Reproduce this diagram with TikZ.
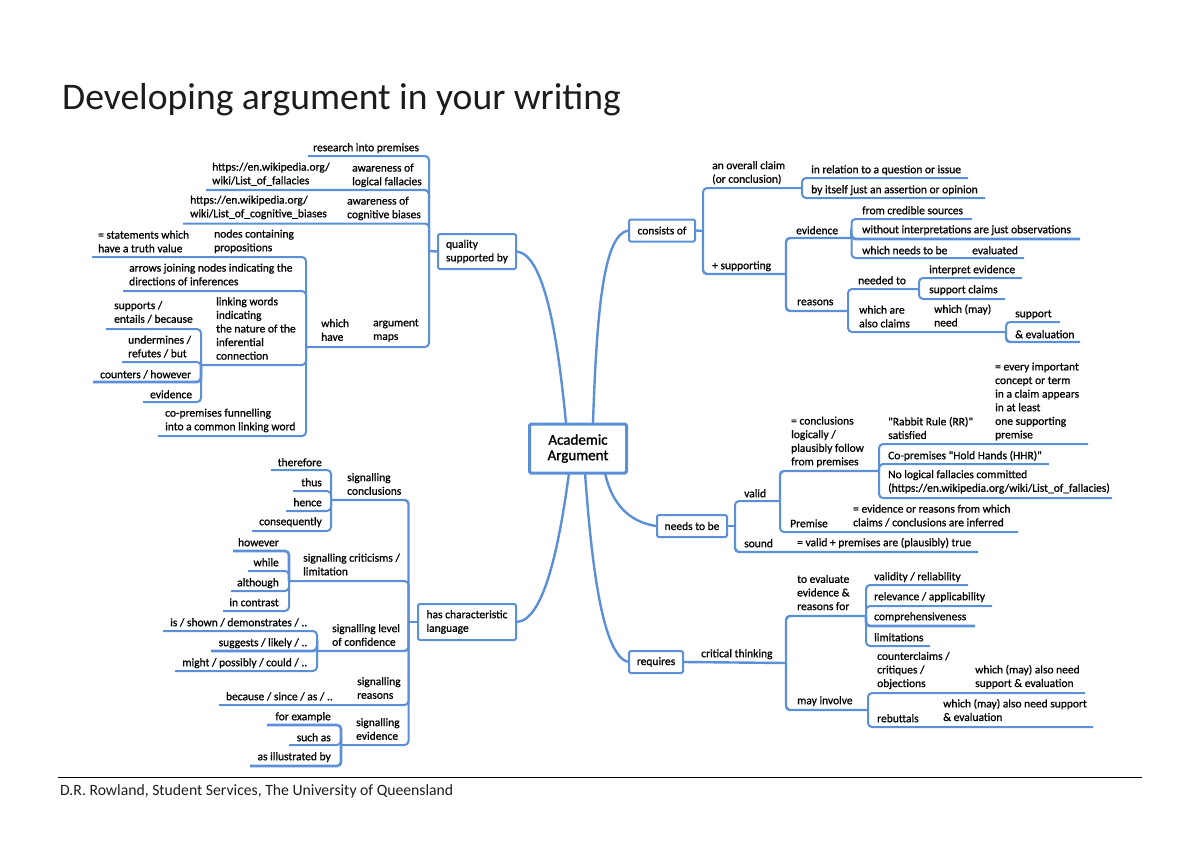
\documentclass[tikz,border=0pt]{standalone}
\usepackage{fontspec}
\setmainfont{Carlito}
\newfontfamily\mapfont[FakeBold=0.8]{Carlito}
\newfontfamily\rootfont[FakeBold=1.2]{Carlito}
\usetikzlibrary{arrows.meta, calc}
\definecolor{mapblue}{HTML}{5B8FD8}
\definecolor{inkgrey}{HTML}{1C1C1C}
\tikzset{
    lab/.style={anchor=west, align=left, inner sep=0pt, text=black, yshift=-1.5pt,
        font=\mapfont\fontsize{11.5}{13.6}\selectfont,
        execute at begin node=\strut, execute at end node=\strut},
    labr/.style={lab, anchor=east, align=right},
    topic/.style={draw=mapblue, line width=2pt, rounded corners=1.5pt, align=left, inner sep=0pt,
        font=\mapfont\fontsize{11.5}{13.6}\selectfont},
    branch/.style={draw=mapblue, rounded corners=4pt},
    trunk/.style={draw=mapblue, line width=2.4pt}
}
\begin{document}
\begin{tikzpicture}[x=1pt, y=-1pt]
    \useasboundingbox (0, 0) rectangle (1200, 849);
    % heading and footer
    \node[anchor=west, inner sep=0pt, text=inkgrey, font=\fontsize{37.6}{40}\selectfont] (title) at (62, 100) {Developing argument in your writing};
    \node[anchor=west, inner sep=0pt, text=inkgrey, font=\fontsize{15.7}{18}\selectfont] (footer) at (60, 791) {D.R. Rowland, Student Services, The University of Queensland};
    \coordinate (ruleL) at (58, 777);
    \coordinate (ruleR) at (1142, 777);
    \draw[line width=0.9pt] (ruleL) -- (ruleR);
    % centre and first level
    \node[topic, line width=3pt, align=center, minimum width=97pt, minimum height=49pt, font=\rootfont\fontsize{15}{15.5}\selectfont] (academic) at (578, 448.5) {Academic\\Argument};
    \node[topic, minimum width=78pt, minimum height=35pt] (quality) at (477, 251.5) {quality\\supported by};
    \node[topic, minimum width=98pt, minimum height=36pt] (charlang) at (467, 622) {has characteristic\\language};
    \node[topic, minimum width=66pt, minimum height=22pt] (consists) at (662, 230.5) {consists of};
    \node[topic, minimum width=70pt, minimum height=22pt] (needs) at (692, 526) {needs to be};
    \node[topic, minimum width=54pt, minimum height=22pt] (requires) at (656, 662) {requires};
    \coordinate (cq) at (566, 423);
    \coordinate (cc) at (593, 423);
    \coordinate (ch) at (569, 473);
    \coordinate (cr) at (585, 473);
    \coordinate (cn) at (605, 473);
    \draw[trunk] (quality.east) .. controls (545, 255) and (558, 340) .. (cq);
    \draw[trunk] (consists.west) .. controls (605, 235) and (597, 300) .. (cc);
    \draw[trunk] (charlang.east) .. controls (545, 620) and (560, 540) .. (ch);
    \draw[trunk] (cr) .. controls (592, 570) and (603, 655) .. (requires.west);
    \draw[trunk] (cn) .. controls (612, 505) and (630, 522) .. (needs.west);
    % roots of the trees
    \coordinate (jqual) at (429, 251);
    \coordinate (jchar) at (408.5, 622);
    \coordinate (jcons) at (703, 231);
    \coordinate (jneeds) at (735, 526);
    \draw[trunk] (jqual) -- (quality.west);
    \draw[trunk] (jchar) -- (charlang.west);
    \draw[trunk] (jcons) -- (consists.east);
    \draw[trunk] (jneeds) -- (needs.east);
    \coordinate (jreq) at (786, 663);
    \draw[trunk] (requires.east) -- (jreq);
    % every underline, parent before child
    \foreach \from/\to/\x/\y/\w in {
        jqual/rResearch/308/156/2, jqual/rFall/206/190/2.4, jqual/rCog/183/223.5/2,
        jqual/jmaps/306/347/2, jmaps/rNodes/92/257/2, jmaps/rArrows/123/291/2,
        jmaps/jlink/201/365/2, jmaps/rCoprem/158/436/2,
        jlink/rSupports/106/329/2, jlink/rUnder/122/362/2, jlink/rCounters/93/382/2.8, jlink/rEvid/143/402/2,
        jchar/jconc/331/500/2.4, jchar/jcrit/289/581/2, jchar/jconf/317/651/2.4,
        jchar/rBecause/219/705/2, jchar/jsigev/341/745/2,
        jconc/rThere/271/470/2, jconc/rThus/293/491/2, jconc/rHence/286/511/2, jconc/rConseq/252/531/2,
        jcrit/rHowever/233/551/2.6, jcrit/rWhile/248/571/2, jcrit/rAlthough/231/591/2, jcrit/rContrast/223/611/2,
        jconf/rShown/163/631/2, jconf/rSuggests/211/651/2.8, jconf/rMight/175/671/2,
        jsigev/rExample/267/725/2.6, jsigev/rSuch/289/745/2, jsigev/rIllus/250/766/2.6,
        jcons/jclaim/802/188/2, jcons/jsupp/786/274/2.4,
        jclaim/rRelation/968/178/2, jclaim/rItself/985/198/2,
        jsupp/jev/851.5/238/2.4, jsupp/jreas/848/311/2.4,
        jev/rCred/972/219/2, jev/rWithout/1080/239/2.8, jev/rEvaluated/1024/258/2,
        jreas/jneed/919/289/2, jreas/jalso/1006/332/2,
        jneed/rInterpret/1022/278/2, jneed/rClaims/1005/299/2,
        jalso/rSupport/1060/322/2, jalso/rAndEval/1080/342/2.4,
        jneeds/jvalid/780/501/2, jneeds/rSound/978/552/2.4,
        jvalid/jconcl/879/471/2.4, jvalid/rPremise/1018/532/2,
        jconcl/rRabbit/1088/444/2, jconcl/rHold/1049/464/2, jconcl/rNoLog/1112/498/2,
        jreq/jeval/866/616/2.4, jreq/jinv/868/710/2.4,
        jeval/rValidity/968/585/2, jeval/rRelevance/992/606/2, jeval/rCompre/975/626/2.6, jeval/rLimit/930/646/2,
        jinv/rCounter/1085/693/2, jinv/rRebut/1093/727/2}
    {
        \coordinate (\to) at (\x, \y);
        \draw[branch, line width=\w pt] (\from) |- (\to);
    }
    % labels, top left
    \node[lab] (tResearch) at (313, 147) {research into premises};
    \node[lab] (tFallUrl) at (212, 174) {https://en.wikipedia.org/\\wiki/List\_of\_fallacies};
    \node[lab] (tFall) at (352, 175) {awareness of\\logical fallacies};
    \node[lab] (tCogUrl) at (190, 207) {https://en.wikipedia.org/\\wiki/List\_of\_cognitive\_biases};
    \node[lab] (tCog) at (347, 208) {awareness of\\cognitive biases};
    \node[lab] (tStat) at (98, 242) {= statements which\\have a truth value};
    \node[lab] (tNodes) at (214, 241) {nodes containing\\propositions};
    \node[lab] (tArrows) at (129, 275) {arrows joining nodes indicating  the\\directions of inferences};
    \node[lab] (tSupports) at (114, 312.5) {supports /\\entails / because};
    \node[lab] (tLink) at (216, 329) {linking words\\indicating\\the nature of the\\inferential\\connection};
    \node[lab] (tUnder) at (128, 347) {undermines /\\refutes / but};
    \node[lab] (tCounters) at (100, 374) {counters / however};
    \node[lab] (tEvid) at (150, 394) {evidence};
    \node[lab] (tCoprem) at (165, 420) {co-premises funnelling\\into a common linking word};
    \node[lab] (tWhich) at (321, 330.5) {which\\have};
    \node[lab] (tMaps) at (373, 330) {argument\\maps};
    % labels, bottom left
    \node[lab] (tConc) at (347, 484.5) {signalling\\conclusions};
    \node[labr] (tThere) at (322, 462) {therefore};
    \node[labr] (tThus) at (322, 482) {thus};
    \node[labr] (tHence) at (322, 502) {hence};
    \node[labr] (tConseq) at (322, 521) {consequently};
    \node[lab] (tCrit) at (303, 565) {signalling criticisms /\\limitation};
    \node[labr] (tHowever) at (279, 542) {however};
    \node[labr] (tWhile) at (279, 562) {while};
    \node[labr] (tAlthough) at (279, 582) {although};
    \node[labr] (tContrast) at (279, 602) {in contrast};
    \node[lab] (tConf) at (332, 635.5) {signalling level\\of confidence};
    \node[labr] (tShown) at (307.5, 622) {is / shown / demonstrates / ..};
    \node[labr] (tSuggests) at (307.5, 642) {suggests / likely / ..};
    \node[labr] (tMight) at (307.5, 662) {might / possibly / could / ..};
    \node[lab] (tReas) at (357, 688.5) {signalling\\reasons};
    \node[labr] (tBecause) at (333, 696) {because / since / as / ..};
    \node[lab] (tSigev) at (356, 729.5) {signalling\\evidence};
    \node[labr] (tExample) at (331, 716) {for example};
    \node[labr] (tSuch) at (331, 737) {such as};
    \node[labr] (tIllus) at (331, 756) {as illustrated by};
    % labels, consists of
    \node[lab] (tClaim) at (712, 172.5) {an overall claim\\(or conclusion)};
    \node[lab] (tRelation) at (811, 169) {in relation to a question or issue};
    \node[lab] (tItself) at (811, 189) {by itself just an assertion or opinion};
    \node[lab] (tSupp) at (712, 265) {+ supporting};
    \node[lab] (tEv) at (796, 230) {evidence};
    \node[lab] (tCred) at (862, 210) {from credible sources};
    \node[lab] (tWithout) at (862, 229) {without interpretations are just observations};
    \node[lab] (tNeedsBe) at (862, 250) {which needs to be};
    \node[lab] (tEvaluated) at (972, 250) {evaluated};
    \node[lab] (tReasons) at (797, 301) {reasons};
    \node[lab] (tNeeded) at (858, 280) {needed to};
    \node[lab] (tInterpret) at (929, 269) {interpret evidence};
    \node[lab] (tClaims) at (929, 289) {support claims};
    \node[lab] (tAlso) at (859, 317) {which are\\also claims};
    \node[lab] (tMay) at (934, 316) {which (may)\\need};
    \node[lab] (tSupport) at (1015, 313) {support};
    \node[lab] (tAndEval) at (1015, 334) {\& evaluation};
    % labels, needs to be
    \node[lab] (tValid) at (744, 493) {valid};
    \node[lab] (tSound) at (744, 543) {sound};
    \node[lab] (tTrue) at (797, 542) {= valid + premises are (plausibly) true};
    \node[lab] (tFollow) at (791, 441.5) {= conclusions\\logically /\\plausibly follow\\from premises};
    \node[lab] (tRabbit) at (888, 428.5) {"Rabbit Rule (RR)"\\satisfied};
    \node[lab] (tEvery) at (995, 401) {= every important\\concept or term\\in a claim appears\\in at least\\one supporting\\premise};
    \node[lab] (tHold) at (888, 455) {Co-premises "Hold Hands (HHR)"};
    \node[lab] (tNoLog) at (888, 481.5) {No logical fallacies committed\\(https://en.wikipedia.org/wiki/List\_of\_fallacies)};
    \node[lab] (tPremise) at (790, 523) {Premise};
    \node[lab] (tInfer) at (853, 516) {= evidence or reasons from which\\claims / conclusions are inferred};
    % labels, requires
    \node[lab] (tCritical) at (701, 653) {critical thinking};
    \node[lab] (tEval) at (797, 593) {to evaluate\\evidence \&\\reasons for};
    \node[lab] (tValidity) at (874, 576) {validity / reliability};
    \node[lab] (tRelevance) at (874, 596) {relevance / applicability};
    \node[lab] (tCompre) at (874, 616) {comprehensiveness};
    \node[lab] (tLimit) at (874, 637) {limitations};
    \node[lab] (tInvolve) at (797, 700) {may involve};
    \node[lab] (tCounter) at (877, 670) {counterclaims /\\critiques /\\objections};
    \node[lab] (tAlsoNeed) at (975, 676.5) {which (may) also need\\support \& evaluation};
    \node[lab] (tRebut) at (877, 718) {rebuttals};
    \node[lab] (tAlsoSupp) at (943, 710.5) {which (may) also need support\\\& evaluation};
\end{tikzpicture}
\end{document}
